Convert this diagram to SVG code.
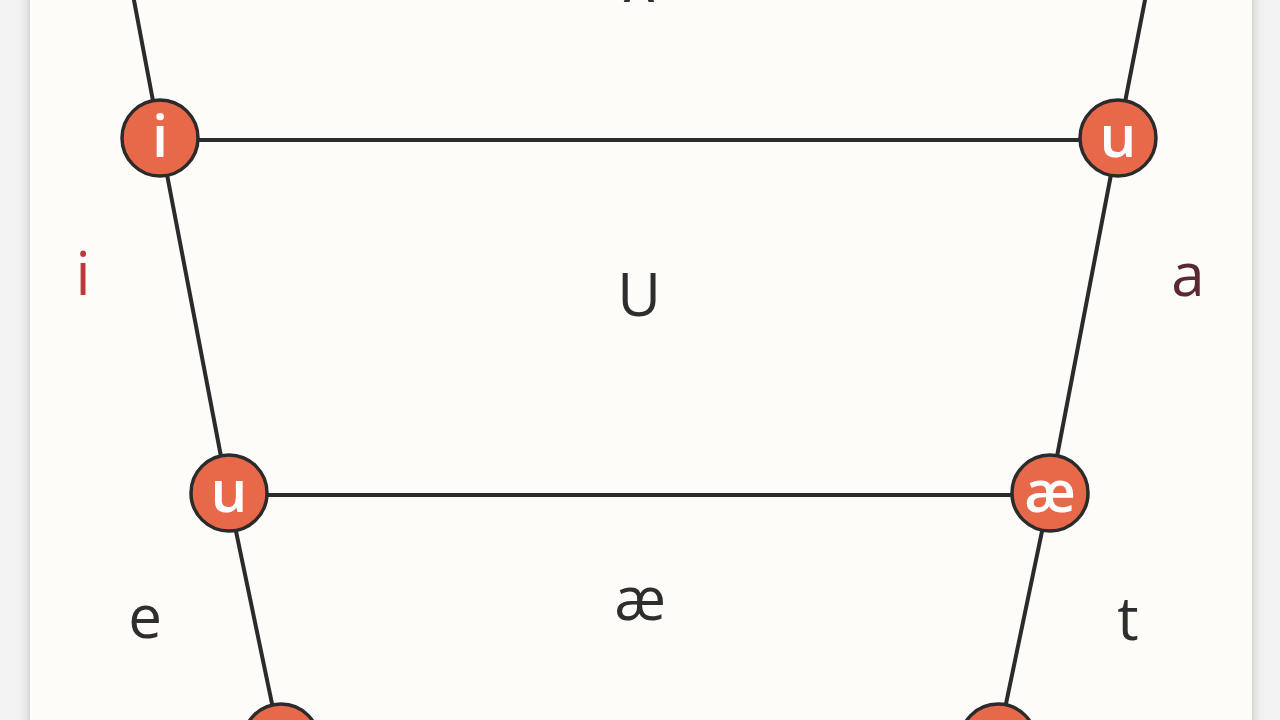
<svg xmlns="http://www.w3.org/2000/svg" width="1280" height="720" viewBox="0 0 1280 720">
  <defs>
    <filter id="sh" x="-10%" y="-10%" width="120%" height="120%">
      <feGaussianBlur stdDeviation="6"/>
    </filter>
    <style>
      .edge{stroke:#2b2b2b;stroke-width:4;fill:none;stroke-linecap:round}
      .node circle{fill:#e8694a;stroke:#2b2b2b;stroke-width:3.5}
      .node text{fill:#ffffff;font-family:"Open Sans","Noto Sans","DejaVu Sans",sans-serif;font-size:58px;font-weight:600;text-anchor:middle}
      .lbl{font-family:"Open Sans","Noto Sans","DejaVu Sans",sans-serif;font-size:60px;text-anchor:middle;fill:#2e2e2e}
    </style>
  </defs>
  <rect x="0" y="0" width="1280" height="720" fill="#f3f3f3"/>
  <rect x="30" y="-20" width="1222" height="760" fill="#b8b8b8" filter="url(#sh)"/>
  <rect x="30" y="-20" width="1222" height="760" fill="#fdfcf8"/>

  <g id="connectors">
    <polyline class="edge" points="133,-5 160,138 228,493 280,742"/>
    <polyline class="edge" points="1146,-5 1118,138 1050,493 998,742"/>
    <line class="edge" x1="160" y1="140" x2="1118" y2="140"/>
    <line class="edge" x1="228" y1="495" x2="1050" y2="495"/>
  </g>

  <g id="node-i" class="node"><circle cx="160" cy="138" r="38"/><text x="160" y="157">i</text></g>
  <g id="node-u-top" class="node"><circle cx="1118" cy="138" r="38"/><text x="1118" y="157">u</text></g>
  <g id="node-u-mid" class="node"><circle cx="229" cy="493" r="38"/><text x="229" y="512">u</text></g>
  <g id="node-ae" class="node"><circle cx="1050" cy="493" r="38"/><text x="1050" y="512">æ</text></g>
  <g id="node-bottom-left" class="node"><circle cx="281" cy="742" r="38"/></g>
  <g id="node-bottom-right" class="node"><circle cx="998" cy="742" r="38"/></g>

  <g id="labels">
    <text class="lbl" x="639" y="2">ʌ</text>
    <text class="lbl" x="83" y="295" fill="#b83a3a" style="fill:#b83a3a">i</text>
    <text class="lbl" x="639" y="316">U</text>
    <text class="lbl" x="1188" y="296" style="fill:#5a2a30">a</text>
    <text class="lbl" x="145" y="638">e</text>
    <text class="lbl" x="640" y="620">æ</text>
    <text class="lbl" x="1128" y="640">t</text>
  </g>
</svg>
